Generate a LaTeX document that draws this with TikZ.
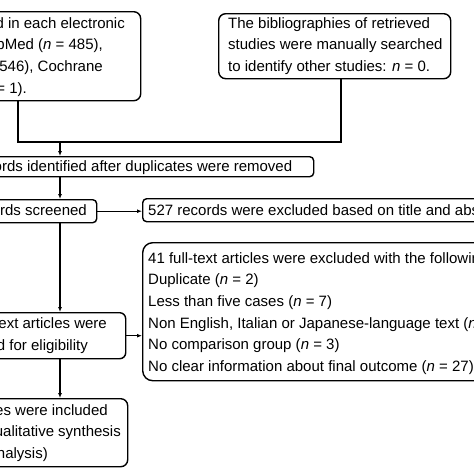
\documentclass[tikz,border=0pt]{standalone}
\usepackage{fontspec}
\setmainfont{Liberation Sans}
\usetikzlibrary{arrows.meta}
\begin{document}
\begin{tikzpicture}[x=1pt,y=-1pt,
  box/.style={draw, line width=1.4pt, inner sep=0pt, anchor=north west, rounded corners=#1},
  box/.default=7pt,
  txt/.style={inner sep=0pt, font=\fontsize{15}{21.7}\selectfont},
  arr/.style={line width=1.3pt, -{Latex[length=5pt,width=4pt]}},
  lin/.style={line width=1.3pt}]
\useasboundingbox (0,0) rectangle (474,474);
\clip (0,0) rectangle (474,474);
% boxes
\node[box, minimum width=160pt, minimum height=89pt] (srcA) at (-20,11) {};
\node[box, minimum width=232pt, minimum height=65pt] (srcB) at (218,13) {};
\node[box=4pt, minimum width=333pt, minimum height=20pt] (dedup) at (-20,156) {};
\node[box=4pt, minimum width=116pt, minimum height=23pt] (screened) at (-20,199) {};
\node[box=4pt, minimum width=360pt, minimum height=23pt] (excla) at (142,198) {};
\node[box=6pt, minimum width=145pt, minimum height=46pt] (fulltext) at (-20,312) {};
\node[box=10pt, minimum width=360pt, minimum height=138pt] (exclb) at (142,242) {};
\node[box, minimum width=147pt, minimum height=68pt] (included) at (-20,398) {};
% texts: source A
\node[txt, anchor=base east] (a1) at (125,28) {d in each electronic};
\node[txt, anchor=base east] (a2) at (103,49.7) {bMed (\textit{n} = 485),};
\node[txt, anchor=base east] (a3) at (103,71.4) {546), Cochrane};
\node[txt, anchor=base east] (a4) at (27,93.1) {= 1).};
% source B
\node[txt, anchor=base west] (b1) at (228,28) {The bibliographies of retrieved};
\node[txt, anchor=base west] (b2) at (228,49.7) {studies were manually searched};
\node[txt, anchor=base west] (b3) at (228,71.4) {to identify other studies: \textit{n} = 0.};
% dedup
\node[txt, anchor=base west] (d1) at (-6.5,171.5) {ords identified after duplicates were removed};
% screened
\node[txt, anchor=base east] (s1) at (87,215.5) {rds screened};
\node[txt, anchor=base west] (e1) at (148,215) {527 records were excluded based on title and abstract};
% full text
\node[txt, anchor=base east] (f1) at (107,328) {ext articles were};
\node[txt, anchor=base east] (f2) at (88,350) {d for eligibility};
% exclusions
\node[txt, anchor=base west] (x1) at (148,263) {41 full-text articles were excluded with the following reasons};
\node[txt, anchor=base west] (x2) at (148,284.7) {Duplicate (\textit{n} = 2)};
\node[txt, anchor=base west] (x3) at (148,306.4) {Less than five cases (\textit{n} = 7)};
\node[txt, anchor=base west] (x4) at (148,328.1) {Non English, Italian or Japanese-language text (\textit{n} = 2)};
\node[txt, anchor=base west] (x5) at (148,349.8) {No comparison group (\textit{n} = 3)};
\node[txt, anchor=base west] (x6) at (148,371.5) {No clear information about final outcome (\textit{n} = 27)};
% included
\node[txt, anchor=base east] (i1) at (108,415) {es were included};
\node[txt, anchor=base east] (i2) at (121,436.7) {qualitative synthesis};
\node[txt, anchor=base east] (i3) at (48,458.4) {nalysis)};
% connectors
\coordinate (j1) at (18,142);
\coordinate (j2) at (341,142);
\coordinate (j3) at (60,142);
\draw[lin] (srcA.south -| j1) -- (j1) -- (j2) -- (srcB.south -| j2);
\draw[arr] (j3) -- (dedup.north -| j3);
\draw[arr] (dedup.south -| j3) -- (screened.north -| j3);
\draw[arr] (screened.south -| j3) -- (fulltext.north -| j3);
\draw[arr] (fulltext.south -| j3) -- (included.north -| j3);
\draw[arr] (screened.east) -- (excla.west |- screened.east);
\draw[arr] (fulltext.east) -- (exclb.west |- fulltext.east);
\end{tikzpicture}
\end{document}
